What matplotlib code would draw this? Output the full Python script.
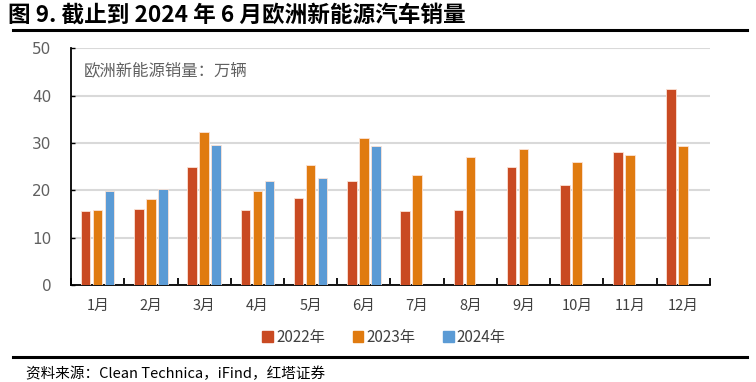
import numpy as np
import matplotlib
matplotlib.use('Agg')
import matplotlib.pyplot as plt
from matplotlib.patches import Rectangle
from matplotlib.lines import Line2D

plt.rcParams['font.family'] = ['Noto Sans CJK SC', 'DejaVu Sans']

months = ['1月', '2月', '3月', '4月', '5月', '6月', '7月', '8月', '9月', '10月', '11月', '12月']
sales_2022 = [15.6, 16.0, 25.0, 15.9, 18.3, 22.0, 15.7, 15.9, 24.9, 21.0, 28.1, 41.3]
sales_2023 = [15.8, 18.2, 32.2, 19.8, 25.4, 31.1, 23.3, 27.0, 28.8, 26.0, 27.4, 29.3]
sales_2024 = [19.8, 20.2, 29.5, 22.0, 22.6, 29.4]
years = ['2022年', '2023年', '2024年']
colors = ['#C94A22', '#E07B10', '#5B9BD5']

fig = plt.figure(figsize=(7.56, 3.82), dpi=100)
ax = fig.add_axes([0.094, 0.254, 0.845, 0.62])

x = np.arange(len(months))
w = 0.18
step = 0.225
for k, (vals, c) in enumerate(zip([sales_2022, sales_2023, sales_2024], colors)):
    xs = x[:len(vals)] + (k - 1) * step
    ax.bar(xs, vals, width=w, color=c, edgecolor='#FBE3D6', linewidth=0.6, zorder=3)

ax.set_xlim(-0.5, 11.5)
ax.set_ylim(0, 50)
ax.set_yticks(range(0, 51, 10))
ax.yaxis.grid(True, color='#D9D9D9', linewidth=1.5, zorder=0)
ax.set_axisbelow(True)
for s in ['top', 'right']:
    ax.spines[s].set_visible(False)
for s in ['left', 'bottom']:
    ax.spines[s].set_color('black')
    ax.spines[s].set_linewidth(1.3)

ax.set_xticks(x)
ax.set_xticklabels(months)
ax.tick_params(axis='x', length=0, pad=10, labelsize=10.5, labelcolor='#404040')
ax.set_xticks(np.arange(-0.5, 12, 1), minor=True)
ax.tick_params(axis='x', which='minor', direction='in', length=5, width=1.3, color='black')
ax.tick_params(axis='y', direction='in', length=3, width=1, pad=14, labelsize=11,
               labelcolor='#606060', color='black')
for lab in ax.get_yticklabels():
    lab.set_fontfamily(['DejaVu Sans'])

ax.text(0.02, 0.94, '欧洲新能源销量：万辆', transform=ax.transAxes, fontsize=11.8,
        color='#606060', va='top')

# legend
handles = [Rectangle((0, 0), 1, 1, color=c) for c in colors]
fig.legend(handles, years, loc='center', bbox_to_anchor=(0.508, 0.117), ncol=3,
           frameon=False, fontsize=11, handlelength=0.7, handleheight=0.7,
           handletextpad=0.2, columnspacing=1.8, labelcolor='#404040')

fig.text(0.011, 0.96, '图 9. 截止到 2024 年 6 月欧洲新能源汽车销量', fontsize=16.3,
         fontweight='bold', va='center', ha='left')
fig.add_artist(Line2D([0.017, 0.988], [0.921, 0.921], color='black', linewidth=2.2))
fig.add_artist(Line2D([0.017, 0.988], [0.066, 0.066], color='black', linewidth=2.2))
fig.text(0.034, 0.021, '资料来源：Clean Technica，iFind，红塔证券', fontsize=10.5,
         va='center', ha='left')

fig.savefig('out.png', dpi=100)
